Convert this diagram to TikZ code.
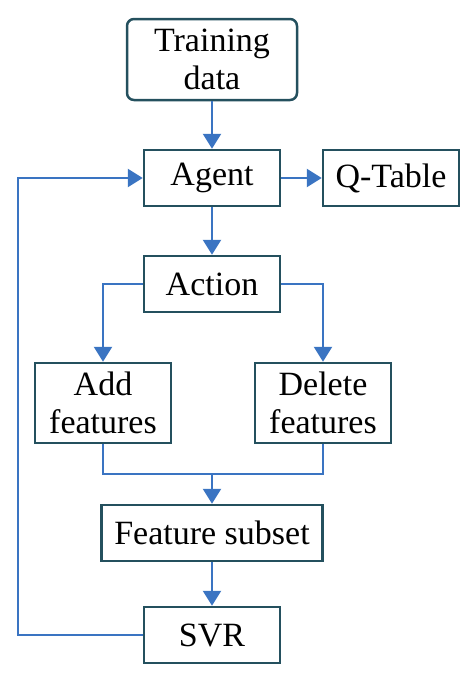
\documentclass[tikz,border=0pt]{standalone}
\usepackage{fontspec}
\setmainfont{Liberation Serif}
\newfontfamily\tnr{Liberation Serif}
\usetikzlibrary{arrows.meta}
\definecolor{boxc}{HTML}{24505E}
\definecolor{linec}{HTML}{3A74C2}
\begin{document}
\begin{tikzpicture}[x=1pt,y=-1pt,
  box/.style={draw=boxc,line width=2.5pt,inner sep=0pt,align=center,
    font=\tnr\fontsize{34}{38}\selectfont},
  conn/.style={draw=linec,line width=2.5pt},
  arr/.style={conn,-{Triangle[width=18pt,length=15pt]}}]
\useasboundingbox (0,0) rectangle (474,680);
\node[box,rounded corners=7pt,minimum width=170pt,minimum height=81pt] (td) at (212,59.5) {Training\\data};
\node[box,minimum width=136pt,minimum height=56pt] (ag) at (212,178) {Agent};
\node[box,minimum width=136pt,minimum height=56pt] (qt) at (391,178) {Q-Table};
\node[box,minimum width=136pt,minimum height=56pt] (ac) at (212,284) {Action};
\node[box,minimum width=136pt,minimum height=80pt] (ad) at (103,403) {Add\\features};
\node[box,minimum width=136pt,minimum height=80pt] (de) at (323,403) {Delete\\features};
\node[box,minimum width=221pt,minimum height=56pt] (fs) at (212,533) {Feature subset};
\node[box,minimum width=136pt,minimum height=56pt] (sv) at (212,635) {SVR};
\coordinate (m) at (212,474);
\coordinate (lp) at (18,635);
\draw[arr] (td) -- (ag);
\draw[arr] (ag) -- (qt);
\draw[arr] (ag) -- (ac);
\draw[arr] (ac.west) -| (ad.north);
\draw[arr] (ac.east) -| (de.north);
\draw[conn] (ad.south) |- (m) -| (de.south);
\draw[arr] (m) -- (fs.north);
\draw[arr] (fs) -- (sv);
\draw[arr] (sv.west) -- (lp) |- (ag.west);
\end{tikzpicture}
\end{document}
